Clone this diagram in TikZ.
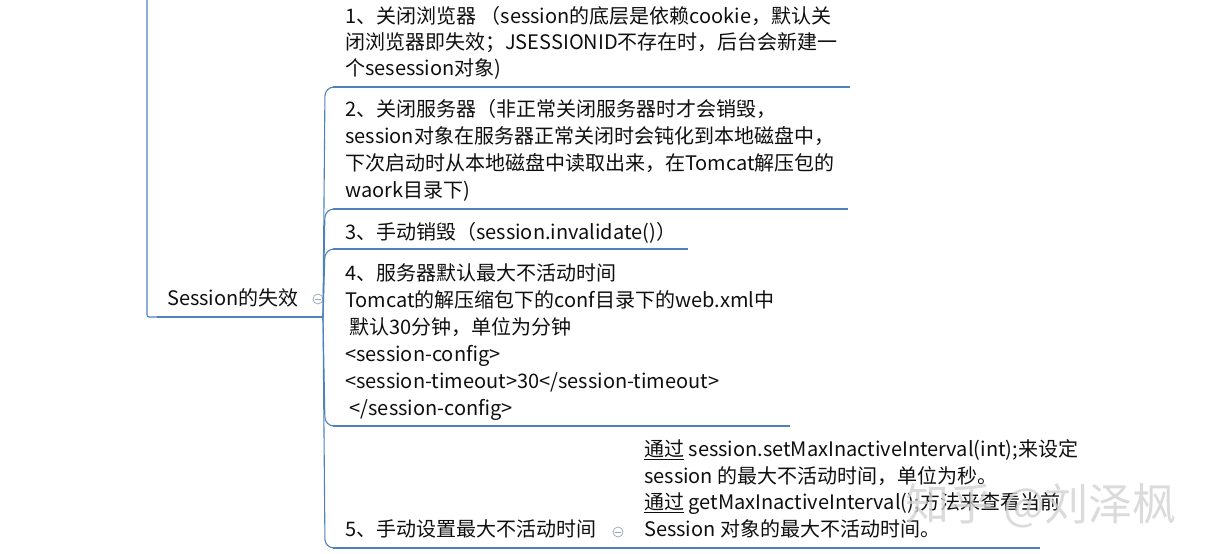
\documentclass[tikz,border=0pt]{standalone}
\usepackage{fontspec}
\setmainfont{Noto Sans CJK SC}
\usetikzlibrary{calc}
\definecolor{lineblue}{RGB}{79,129,189}
\definecolor{txt}{RGB}{15,15,15}
\definecolor{foldc}{RGB}{150,165,185}
\begin{document}
\begin{tikzpicture}[x=1pt,y=-1pt,
  topic/.style={anchor=base west, inner sep=0pt, align=left, text=txt, font=\fontsize{20}{27}\selectfont},
  topictight/.style={topic, font=\fontsize{20}{25.6}\selectfont},
  uline/.style={draw=lineblue, line width=2.6pt},
  branch/.style={draw=lineblue, line width=1.1pt, rounded corners=9pt},
  fold/.style={circle, draw=foldc, line width=0.7pt, minimum size=10pt, inner sep=0pt,
    path picture={\draw[foldc, line width=0.7pt] (-2.8pt,0pt) -- (2.8pt,0pt);}}
]
\useasboundingbox (0,0) rectangle (1213,554);

% root (base anchor = baseline of the last line)
\node[topic] (root) at (167,305) {Session的失效};
\coordinate (rootL) at (157,317);
\coordinate (rootE) at (310,317);
\coordinate (rootR) at (323,317);
\coordinate (ptop) at (147,0);
\draw[draw=lineblue, line width=1.1pt, rounded corners=2pt] (ptop) -- (ptop |- rootL) -- (rootL);
\draw[uline] (rootL) -- (rootE);
\draw[draw=lineblue, line width=1.1pt] (rootE) -- (rootR);
\node[fold] (f1) at (318,299) {};

% child 1
\node[topictight] (c1) at (345,75) {1、关闭浏览器 （session的底层是依赖cookie，默认关\\闭浏览器即失效；JSESSIONID不存在时，后台会新建一\\个sesession对象)};
\coordinate (c1L) at (333,87);
\coordinate (c1R) at (850,87);
% child 2
\node[topic] (c2) at (345,197) {2、关闭服务器（非正常关闭服务器时才会销毁，\\session对象在服务器正常关闭时会钝化到本地磁盘中，\\下次启动时从本地磁盘中读取出来，在Tomcat解压包的\\waork目录下)};
\coordinate (c2L) at (333,209);
\coordinate (c2R) at (848,209);
% child 3
\node[topic] (c3) at (345,239) {3、手动销毁（session.invalidate()）};
\coordinate (c3L) at (333,249);
\coordinate (c3R) at (688,249);
% child 4
\node[topic] (c4) at (345,415) {4、服务器默认最大不活动时间\\Tomcat的解压缩包下的conf目录下的web.xml中\\ \ 默认30分钟，单位为分钟\\<session-config>\\<session-timeout>30</session-timeout>\\ \ </session-config>};
\coordinate (c4L) at (333,426);
\coordinate (c4R) at (790,426);
% child 5
\node[topic] (c5) at (345,536) {5、手动设置最大不活动时间};
\coordinate (c5L) at (333,548);
\coordinate (c5R) at (608,548);
\node[fold] (f5) at (618,532) {};
% grandchild
\node[topic, font=\fontsize{20}{26.4}\selectfont] (g5) at (644,536) {\underline{通过} session.setMaxInactiveInterval(int);来设定\\session 的最大不活动时间，单位为秒。\\\underline{通过} getMaxInactiveInterval();方法来查看当前\\Session 对象的最大不活动时间。};
\coordinate (g5L) at (633,548);
\coordinate (g5R) at (1040,548);

% underlines
\foreach \n in {c1,c2,c3,c4,c5,g5} {\draw[uline] (\n L) -- (\n R);}

% branches
\foreach \n in {c1,c2,c3,c4,c5} {\draw[branch] (rootR) -- ($(rootR |- \n L)+(2,0)$) -- (\n L);}
\draw[draw=lineblue, line width=1.1pt] (c5R) -- (g5L);

% watermark
\node[anchor=base west, inner sep=0pt, text=gray!35, font=\fontsize{44}{44}\selectfont, opacity=0.8] (wm) at (905,520) {知乎 @刘泽枫};
\end{tikzpicture}
\end{document}
